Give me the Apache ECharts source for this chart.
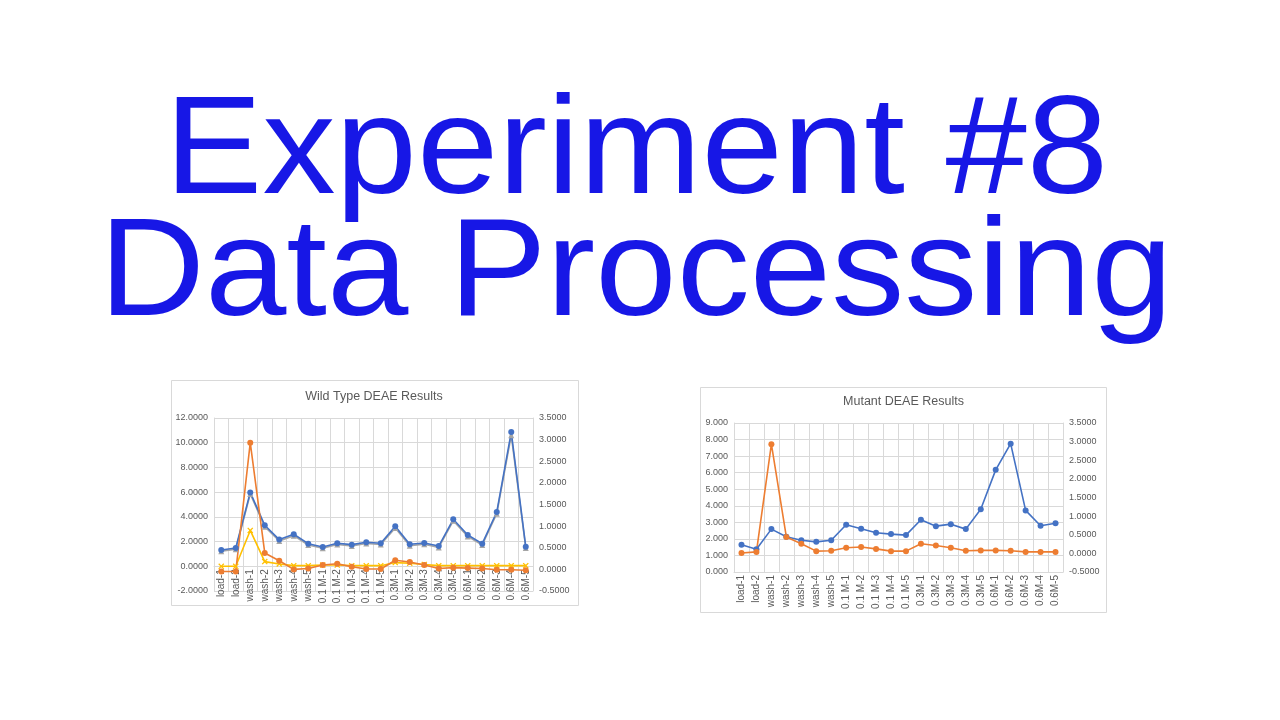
<!DOCTYPE html>
<html>
<head>
<meta charset="utf-8">
<script src="https://cdn.jsdelivr.net/npm/echarts@6/dist/echarts.min.js"></script>
<style>
html,body{margin:0;padding:0;background:#fff;}
#c{width:1280px;height:720px;}
</style>
</head>
<body>
<div id="c"></div>
<script>
// ---- data ----
var categoriesWT = ['load-1','load-2','wash-1','wash-2','wash-3','wash-4','wash-5','0.1 M-1','0.1 M-2','0.1 M-3','0.1 M-4','0.1 M-5','0.3M-1','0.3M-2','0.3M-3','0.3M-4','0.3M-5','0.6M-1','0.6M-2','0.6M-3','0.6M-4','0.6M-5'];
var categoriesMut = ['load-1','load-2','wash-1','wash-2','wash-3','wash-4','wash-5','0.1 M-1','0.1 M-2','0.1 M-3','0.1 M-4','0.1 M-5','0.3M-1','0.3M-2','0.3M-3','0.3M-4','0.3M-5','0.6M-1','0.6M-2','0.6M-3','0.6M-4','0.6M-5'];

// Wild type (left axis)
var wtBlue   = [1.32,1.48,5.98,3.32,2.16,2.59,1.83,1.56,1.86,1.75,1.94,1.86,3.23,1.78,1.89,1.64,3.80,2.53,1.83,4.39,10.86,1.59];
var wtGray   = [1.22,1.38,5.85,3.20,2.05,2.48,1.72,1.46,1.76,1.65,1.84,1.76,3.10,1.67,1.78,1.53,3.68,2.42,1.72,4.25,10.60,1.48];
var wtYellow = [0.00,0.00,2.90,0.38,0.19,0.05,0.05,0.10,0.10,0.05,0.05,0.05,0.30,0.25,0.15,0.05,0.05,0.05,0.05,0.05,0.05,0.05];
// Wild type (right axis)
var wtOrange = [-0.05,-0.05,2.93,0.38,0.20,0.00,0.02,0.10,0.13,0.06,0.01,0.01,0.21,0.17,0.10,0.02,0.04,0.03,0.02,-0.01,-0.01,-0.02];

// Mutant (left axis)
var mutBlue   = [1.64,1.38,2.59,2.13,1.92,1.82,1.92,2.85,2.61,2.37,2.29,2.23,3.16,2.77,2.89,2.59,3.79,6.17,7.75,3.72,2.79,2.94];
// Mutant (right axis)
var mutOrange = [0.01,0.04,2.93,0.44,0.26,0.06,0.07,0.15,0.17,0.12,0.06,0.06,0.26,0.21,0.15,0.07,0.08,0.08,0.07,0.04,0.04,0.04];

var titleLine1 = 'Experiment #8';
var titleLine2 = 'Data Processing';
var chartTitleWT = 'Wild Type DEAE Results';
var chartTitleMut = 'Mutant DEAE Results';

// ---- styles ----
var C_BLUE = '#4472c4', C_ORANGE = '#ed7d31', C_GRAY = '#a5a5a5', C_YELLOW = '#ffc000';
var GRID = '#d9d9d9', TXT = '#595959', FONT = '"Liberation Sans", Arial, sans-serif';
var XMARK = 'path://M0,1.5L1.5,0L5,3.5L8.5,0L10,1.5L6.5,5L10,8.5L8.5,10L5,6.5L1.5,10L0,8.5L3.5,5Z';

function catAxis(grid, data, offset){
  return {
    type:'category', gridIndex:grid, data:data, boundaryGap:true, position:'bottom', offset:offset,
    axisLine:{show:true, onZero:false, lineStyle:{color:GRID, width:1}},
    axisTick:{show:false},
    axisLabel:{rotate:90, interval:0, fontSize:10, color:TXT, fontFamily:FONT, margin:3},
    splitLine:{show:true, lineStyle:{color:GRID, width:1}}
  };
}
function valAxis(grid, pos, min, max, step, dec, split){
  return {
    type:'value', gridIndex:grid, position:pos, min:min, max:max, interval:step,
    axisLine:{show:true, lineStyle:{color:GRID}},
    axisTick:{show:false},
    axisLabel:{fontSize:9, color:TXT, fontFamily:FONT, margin:6,
      formatter:function(v){return v.toFixed(dec);}},
    splitLine:{show:split, lineStyle:{color:GRID, width:1}}
  };
}
function lineSeries(name, xi, yi, data, color, symbol, size){
  return {
    name:name, type:'line', xAxisIndex:xi, yAxisIndex:yi, data:data,
    symbol:symbol, symbolSize:size, showSymbol:true,
    lineStyle:{color:color, width:1.6},
    itemStyle:{color:color, borderColor:color, borderWidth:0},
    animation:false
  };
}

var chart = echarts.init(document.getElementById('c'), null, {renderer:'canvas'});
chart.setOption({
  backgroundColor:'#ffffff',
  animation:false,
  grid:[
    {left:214, top:418, width:319, height:173},
    {left:734, top:423, width:329, height:149}
  ],
  xAxis:[ catAxis(0, categoriesWT, -24.7), catAxis(1, categoriesMut, 0) ],
  yAxis:[
    valAxis(0,'left',-2,12,2,4,true),
    valAxis(0,'right',-0.5,3.5,0.5,4,false),
    valAxis(1,'left',0,9,1,3,true),
    valAxis(1,'right',-0.5,3.5,0.5,4,false)
  ],
  graphic:[
    {type:'rect', shape:{x:171.5, y:380.5, width:407, height:225}, style:{fill:'none', stroke:GRID, lineWidth:1}, silent:true},
    {type:'rect', shape:{x:700.5, y:387.5, width:406, height:225}, style:{fill:'none', stroke:GRID, lineWidth:1}, silent:true},
    {type:'text', x:374, y:397, style:{text:chartTitleWT, fontSize:12.5, fontFamily:FONT, fill:TXT, align:'center', verticalAlign:'middle'}},
    {type:'text', x:903.5, y:402, style:{text:chartTitleMut, fontSize:12.5, fontFamily:FONT, fill:TXT, align:'center', verticalAlign:'middle'}},
    {type:'text', x:636.5, y:154, scaleX:1.045, style:{text:titleLine1, fontSize:140, fontFamily:FONT, fill:'#1717e6', align:'center', verticalAlign:'middle'}},
    {type:'text', x:636, y:276, scaleX:1.045, style:{text:titleLine2, fontSize:140, fontFamily:FONT, fill:'#1717e6', align:'center', verticalAlign:'middle'}}
  ],
  series:[
    lineSeries('gray',0,0,wtGray,C_GRAY,'triangle',6),
    lineSeries('blue',0,0,wtBlue,C_BLUE,'circle',6),
    lineSeries('yellow',0,0,wtYellow,C_YELLOW,XMARK,6),
    lineSeries('orange',0,1,wtOrange,C_ORANGE,'circle',6),
    lineSeries('blue',1,2,mutBlue,C_BLUE,'circle',6),
    lineSeries('orange',1,3,mutOrange,C_ORANGE,'circle',6)
  ]
});
</script>
</body>
</html>
